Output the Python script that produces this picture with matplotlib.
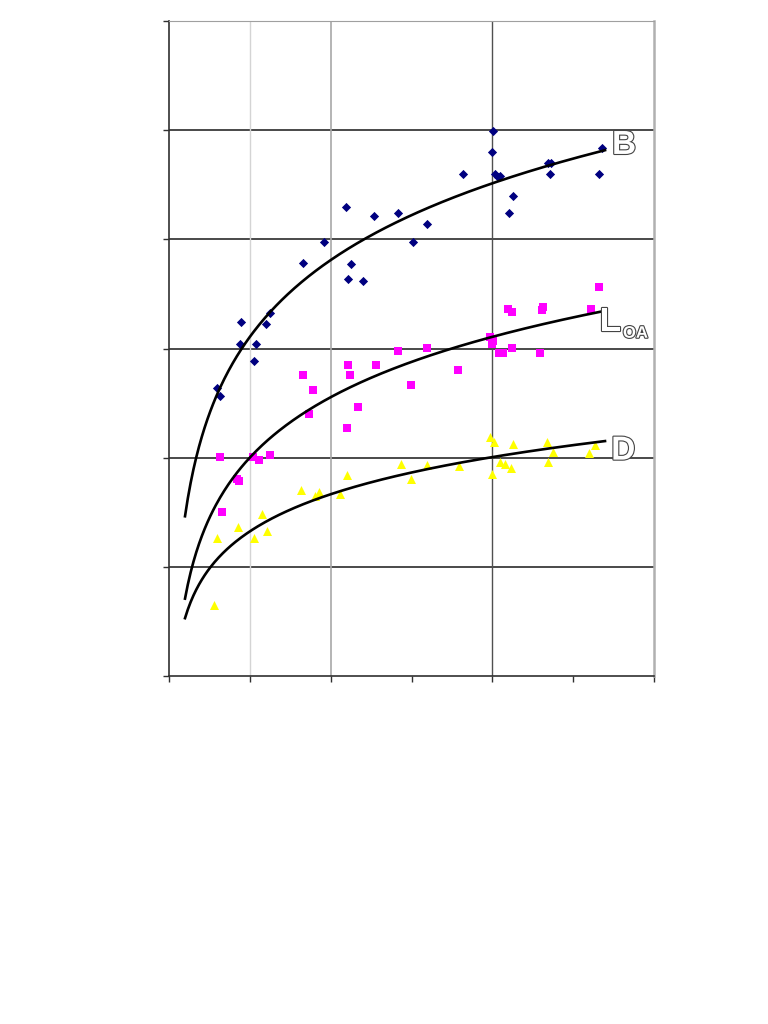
import numpy as np
import matplotlib
matplotlib.use("Agg")
import matplotlib.pyplot as plt
import matplotlib.patheffects as pe

# values (axis units: 0..6 on both axes)
b_x = [0.590, 0.635, 0.875, 0.894, 1.052, 1.076, 1.196, 1.253, 1.654, 1.914, 2.193,
       2.215, 2.252, 2.396, 2.536, 2.833, 3.015, 3.192, 3.634, 3.996, 4.012, 4.037,
       4.074, 4.099, 4.210, 4.252, 4.689, 4.730, 4.714, 5.316, 5.357]
b_y = [2.641, 2.562, 3.041, 3.240, 2.883, 3.041, 3.222, 3.322, 3.779, 3.978, 4.296,
       3.639, 3.777, 3.618, 4.216, 4.238, 3.978, 4.138, 4.598, 4.797, 4.995, 4.598,
       4.574, 4.583, 4.238, 4.397, 4.696, 4.696, 4.598, 4.598, 4.839]

loa_x = [0.635, 0.656, 0.838, 0.862, 1.036, 1.117, 1.253, 1.654, 1.736, 1.778, 2.198,
         2.211, 2.236, 2.335, 2.561, 2.833, 2.990, 3.192, 3.579, 3.975, 4.012, 3.996,
         4.086, 4.136, 4.198, 4.240, 4.247, 4.594, 4.611, 4.631, 5.217, 5.316]
loa_y = [2.003, 1.505, 1.802, 1.783, 2.003, 1.981, 2.022, 2.760, 2.397, 2.623, 2.269,
         2.846, 2.757, 2.467, 2.846, 2.980, 2.666, 3.002, 2.803, 3.108, 3.069, 3.044,
         2.961, 2.961, 3.359, 3.337, 3.002, 2.961, 3.355, 3.380, 3.359, 3.561]

d_x = [0.553, 0.594, 0.857, 1.052, 1.154, 1.216, 1.633, 1.806, 1.856, 2.116, 2.198,
       2.874, 2.994, 3.192, 3.592, 3.971, 4.017, 3.996, 4.095, 4.153, 4.235, 4.252,
       4.673, 4.693, 4.751, 5.192, 5.274]
d_y = [0.650, 1.264, 1.365, 1.264, 1.481, 1.325, 1.704, 1.652, 1.683, 1.664, 1.844,
       1.945, 1.802, 1.930, 1.921, 2.189, 2.143, 1.848, 1.963, 1.945, 1.903, 2.125,
       2.143, 1.963, 2.055, 2.043, 2.119]

fit_range = (0.198, 5.394)

fig = plt.figure(figsize=(7.68, 10.24), dpi=100)
ax = fig.add_axes([169/768, 348/1024, 485/768, 655/1024])
ax.set_xlim(0, 6)
ax.set_ylim(0, 6)

# grid lines (different shades like the original)
for yv in [1, 2, 3, 4, 5]:
    ax.axhline(yv, color="#2a2a2a", lw=1.2, zorder=1)
ax.axvline(1, color="#d4d4d4", lw=1.0, zorder=1)
ax.axvline(2, color="#a8a8a8", lw=1.2, zorder=1)
ax.axvline(4, color="#505050", lw=1.0, zorder=1)

ax.scatter(b_x, b_y, marker="D", s=22, color="#000080", zorder=3, linewidths=0)
ax.scatter(loa_x, loa_y, marker="s", s=34, color="#ff00ff", zorder=3, linewidths=0)
ax.scatter(d_x, d_y, marker="^", s=42, color="#ffff00", zorder=3, linewidths=0)

# logarithmic trend lines
xx = np.linspace(*fit_range, 300)
for xs, ys in [(b_x, b_y), (loa_x, loa_y), (d_x, d_y)]:
    k, c = np.polyfit(np.log(xs), ys, 1)
    ax.plot(xx, c + k*np.log(xx), color="black", lw=1.9, zorder=4)

outline = [pe.Stroke(linewidth=1.6, foreground="#444444"), pe.Normal()]
fam = ["Liberation Sans", "DejaVu Sans"]
kw = dict(fontweight="bold", family=fam, color="white", ha="center", va="center",
          path_effects=outline, zorder=5, clip_on=False)
ax.text(5.63, 4.86, "B", fontsize=24, **kw)
ax.text(5.46, 3.24, "L", fontsize=24, **kw)
ax.text(5.77, 3.14, "OA", fontsize=12, **kw)
ax.text(5.62, 2.06, "D", fontsize=24, **kw)

for side in ["left", "bottom"]:
    ax.spines[side].set_color("#303030")
    ax.spines[side].set_linewidth(1.2)
ax.spines["top"].set_color("#a0a0a0")
ax.spines["right"].set_color("#b0b0b0")
ax.spines["right"].set_linewidth(1.8)

ax.set_xticks(range(7))
ax.set_yticks(range(7))
ax.tick_params(direction="out", length=4, width=1, color="#303030",
               labelbottom=False, labelleft=False)

fig.savefig("out.png", dpi=100)
